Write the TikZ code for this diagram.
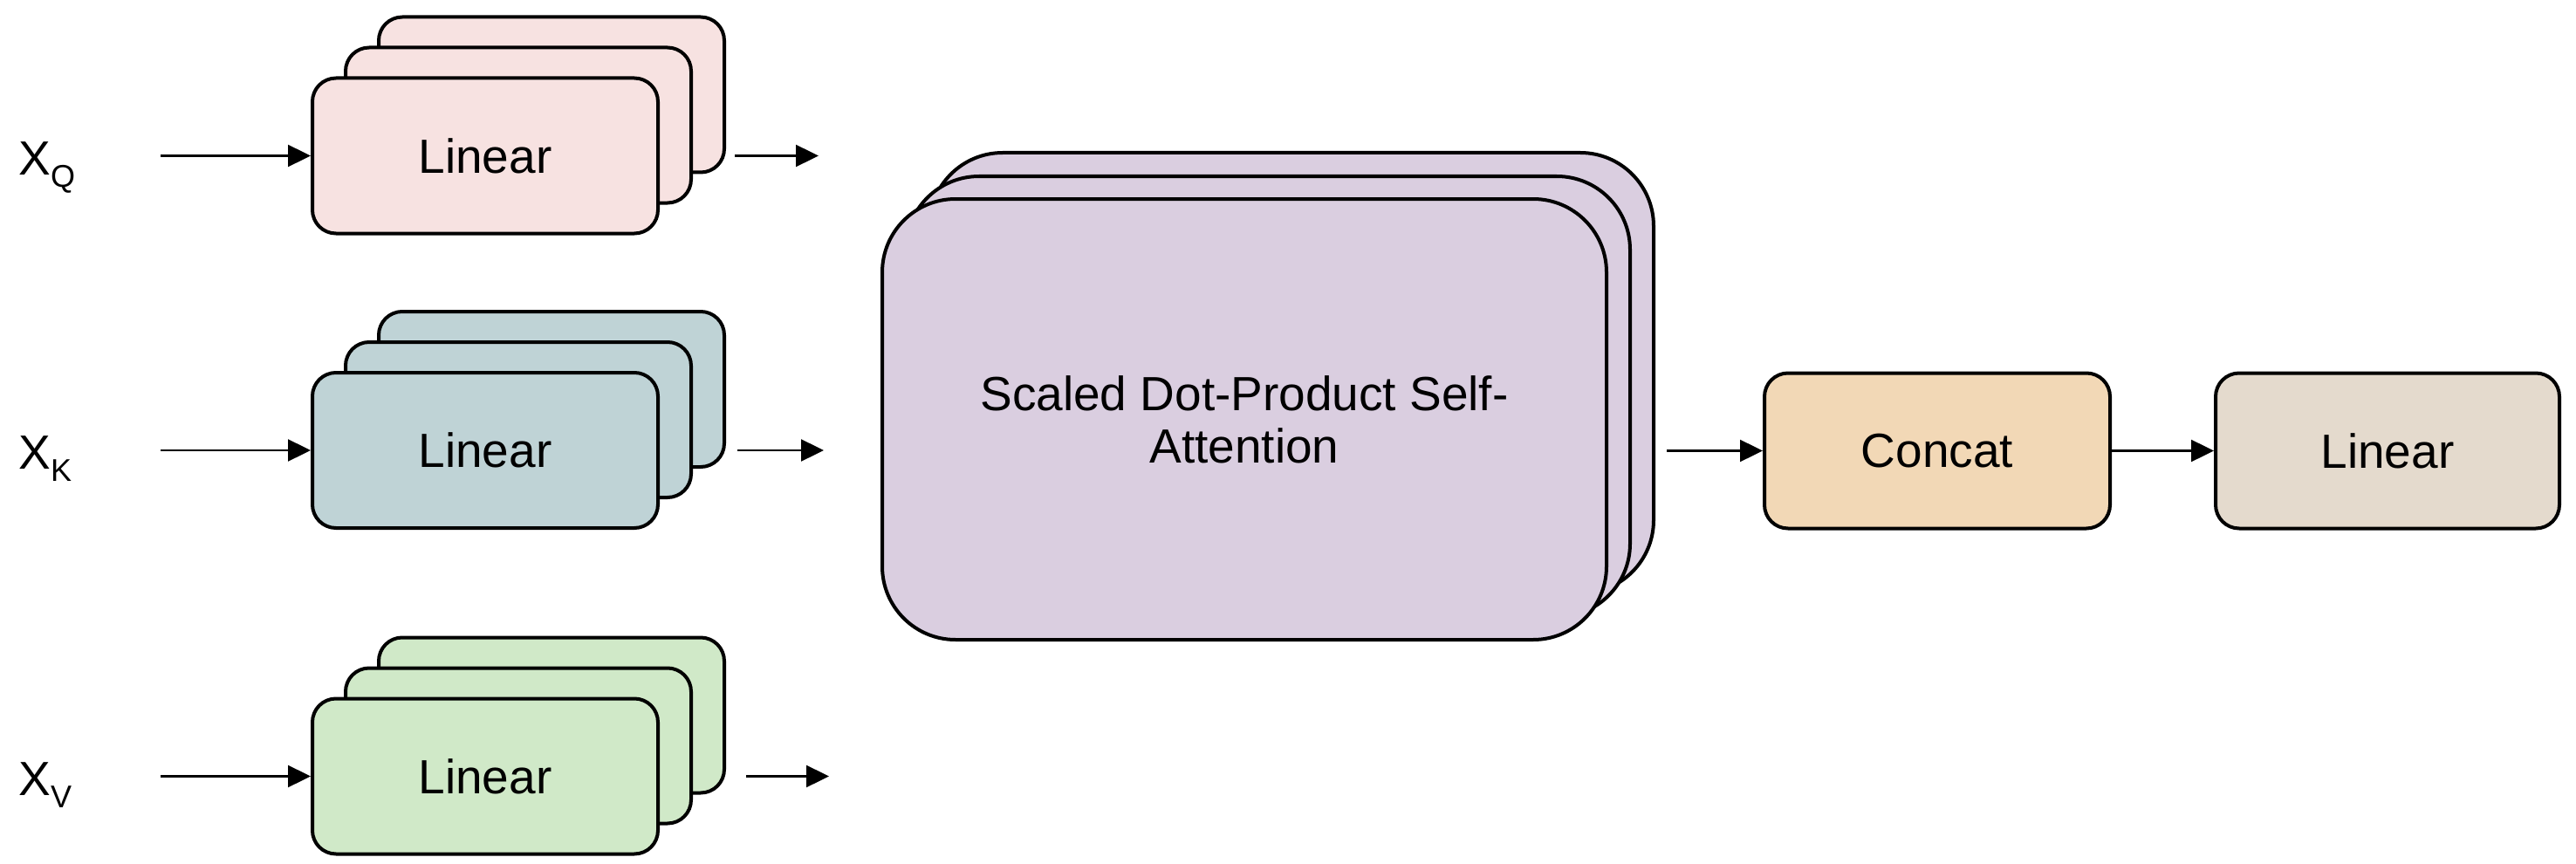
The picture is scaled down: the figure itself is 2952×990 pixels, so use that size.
\documentclass[tikz,border=0pt]{standalone}
\usepackage{fontspec}
\setmainfont{Liberation Sans}
\usetikzlibrary{arrows.meta}
\definecolor{qfill}{HTML}{F7E2E1}
\definecolor{kfill}{HTML}{BFD3D6}
\definecolor{vfill}{HTML}{D0E9C8}
\definecolor{afill}{HTML}{DACEE0}
\definecolor{cfill}{HTML}{F2D8B6}
\definecolor{lfill}{HTML}{E4DACD}
\tikzset{
  box/.style={draw=black, line width=2pt, rounded corners=13.5pt, minimum width=198pt, minimum height=89pt, inner sep=0pt, font=\fontsize{27.5pt}{30pt}\selectfont},
  attbox/.style={draw=black, line width=2pt, rounded corners=42pt, minimum width=415pt, minimum height=252.5pt, inner sep=0pt, align=center, font=\fontsize{27.5pt}{30pt}\selectfont},
  lbl/.style={inner sep=0pt, font=\fontsize{27.5pt}{30pt}\selectfont},
  arr/.style={line width=1.2pt, -{Triangle[length=13pt,width=12.5pt]}},
}
\newcommand{\mysub}[1]{\raisebox{-7pt}{\fontsize{18pt}{18pt}\selectfont #1}}
\begin{document}
\begin{tikzpicture}[x=0.5pt,y=-0.5pt]
\useasboundingbox (0,0) rectangle (2952,990);
% Q stack
\node[box, fill=qfill] (q3) at (632,108.5) {};
\node[box, fill=qfill] (q2) at (594,143.5) {};
\node[box, fill=qfill] (q1) at (556,178.5) {Linear};
% K stack
\node[box, fill=kfill] (k3) at (632,446) {};
\node[box, fill=kfill] (k2) at (594,481) {};
\node[box, fill=kfill] (k1) at (556,516) {Linear};
% V stack
\node[box, fill=vfill] (v3) at (632,819.5) {};
\node[box, fill=vfill] (v2) at (594,854.5) {};
\node[box, fill=vfill] (v1) at (556,889.5) {Linear};
% attention stack
\node[attbox, fill=afill] (a3) at (1480,427.5) {};
\node[attbox, fill=afill] (a2) at (1453,454.5) {};
\node[attbox, fill=afill] (a1) at (1426,480.5) {Scaled Dot-Product Self-\\Attention};
% concat and final linear
\node[box, fill=cfill] (cc) at (2220,516.5) {Concat};
\node[box, fill=lfill, minimum width=197pt] (fl) at (2736,516.5) {Linear};
% labels
\node[lbl, anchor=base west] (xq) at (21,200) {X\mysub{Q}};
\node[lbl, anchor=base west] (xk) at (21,537) {X\mysub{K}};
\node[lbl, anchor=base west] (xv) at (21,911) {X\mysub{V}};
% coordinates
\coordinate (qin) at (184,178.5);
\coordinate (kin) at (184,516);
\coordinate (vin) at (184,889.5);
\coordinate (qos) at (842,178.5);
\coordinate (qoe) at (938,178.5);
\coordinate (kos) at (845,516);
\coordinate (koe) at (944,516);
\coordinate (vos) at (855,889.5);
\coordinate (voe) at (950,889.5);
\coordinate (aos) at (1910,516.5);
% arrows
\draw[arr] (qin) -- (q1.west);
\draw[arr] (kin) -- (k1.west);
\draw[arr] (vin) -- (v1.west);
\draw[arr] (qos) -- (qoe);
\draw[arr] (kos) -- (koe);
\draw[arr] (vos) -- (voe);
\draw[arr] (aos) -- (cc.west);
\draw[arr] (cc.east) -- (fl.west);
\end{tikzpicture}
\end{document}
